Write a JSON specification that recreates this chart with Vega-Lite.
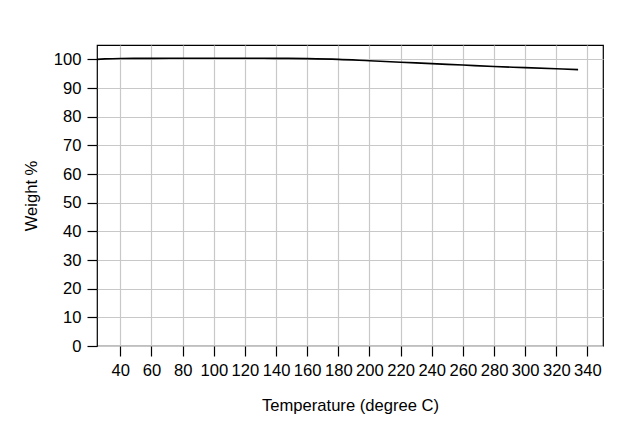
{
  "$schema": "https://vega.github.io/schema/vega-lite/v6.json",
  "width": 506,
  "height": 301,
  "autosize": {"type": "none"},
  "padding": {"left": 97, "top": 45, "right": 36, "bottom": 80},
  "background": "white",
  "config": {
    "font": "Liberation Sans",
    "view": {"stroke": "black", "strokeWidth": 1.2},
    "axis": {
      "labelFont": "Liberation Sans",
      "titleFont": "Liberation Sans",
      "labelFontSize": 16.6,
      "titleFontSize": 16.6,
      "titleFontWeight": "normal",
      "labelColor": "black",
      "titleColor": "black",
      "tickColor": "black",
      "tickSize": 10,
      "tickWidth": 1.2,
      "domain": false,
      "gridColor": "#c8c8c8",
      "gridWidth": 1.2
    }
  },
  "data": {
    "values": [
      {"t": 25, "w": 100.0},
      {"t": 30, "w": 100.15},
      {"t": 40, "w": 100.3},
      {"t": 60, "w": 100.35},
      {"t": 80, "w": 100.4},
      {"t": 100, "w": 100.4},
      {"t": 120, "w": 100.4},
      {"t": 140, "w": 100.35},
      {"t": 160, "w": 100.25},
      {"t": 180, "w": 100.0},
      {"t": 200, "w": 99.5},
      {"t": 220, "w": 99.0},
      {"t": 240, "w": 98.5},
      {"t": 260, "w": 98.0},
      {"t": 280, "w": 97.5},
      {"t": 300, "w": 97.1},
      {"t": 320, "w": 96.7},
      {"t": 334, "w": 96.4}
    ]
  },
  "mark": {"type": "line", "color": "black", "strokeWidth": 1.6, "interpolate": "monotone", "clip": true},
  "encoding": {
    "x": {
      "field": "t", "type": "quantitative",
      "scale": {"domain": [25, 350], "nice": false, "zero": false},
      "axis": {"values": [40,60,80,100,120,140,160,180,200,220,240,260,280,300,320,340], "title": "Temperature (degree C)", "labelPadding": 6, "titlePadding": 19, "labelFlush": false}
    },
    "y": {
      "field": "w", "type": "quantitative",
      "scale": {"domain": [0, 105], "nice": false},
      "axis": {"values": [0,10,20,30,40,50,60,70,80,90,100], "title": "Weight %", "labelPadding": 6, "titlePadding": 14, "labelFlush": false}
    }
  }
}
